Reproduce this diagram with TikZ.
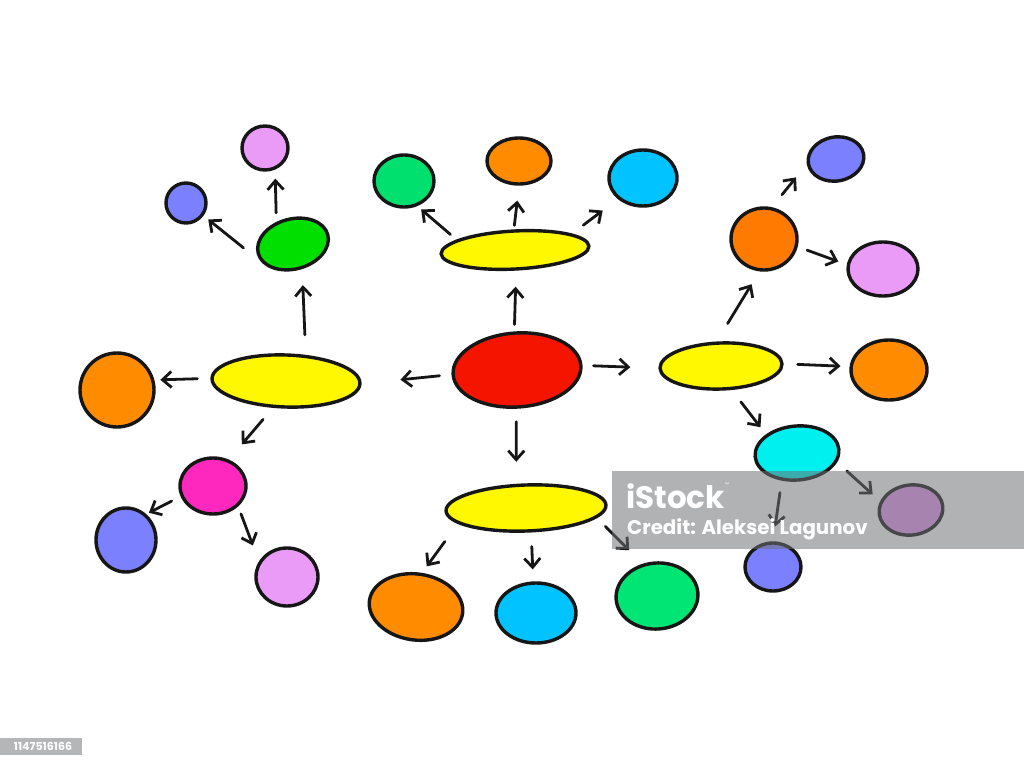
\documentclass[tikz,border=0pt]{standalone}
\usepackage{fontspec}
\newfontfamily\wmfont{Poppins}
\usetikzlibrary{shapes.geometric,arrows.meta}
\definecolor{ink}{HTML}{161616}
\definecolor{cred}{HTML}{F41400}
\definecolor{cyel}{HTML}{FFF800}
\definecolor{cgreenA}{HTML}{00E06E}
\definecolor{cgreenB}{HTML}{00DF00}
\definecolor{cgreenC}{HTML}{00E573}
\definecolor{corange}{HTML}{FF8C00}
\definecolor{corangeB}{HTML}{FF7A00}
\definecolor{cblue}{HTML}{00C3FF}
\definecolor{ccyan}{HTML}{00F0F0}
\definecolor{cpink}{HTML}{EA9BF7}
\definecolor{cviolet}{HTML}{7B80FF}
\definecolor{cmag}{HTML}{FF28BE}
\definecolor{wmgrey}{HTML}{707275}
\definecolor{idgrey}{HTML}{B4B6B8}
\tikzset{
  bub/.style={ellipse, draw=ink, line width=3.4pt, inner sep=0pt},
  arr/.style={-{Straight Barb[length=9pt,width=16pt]}, line width=2.8pt, draw=ink, line cap=round},
  wmtext/.style={text=white, inner sep=0pt, font=\wmfont\bfseries}
}
\begin{document}
\begin{tikzpicture}[x=1pt,y=-1pt]
\useasboundingbox[fill=white] (0,0) rectangle (1024,767);
% nodes
\node[bub,fill=cred,minimum width=128pt,minimum height=74pt,rotate=4] (red) at (517,370) {};
\node[bub,fill=cyel,minimum width=148pt,minimum height=38pt,rotate=3] (ty) at (515,250) {};
\node[bub,fill=cgreenA,minimum width=60pt,minimum height=52pt] (tg) at (404,181) {};
\node[bub,fill=corange,minimum width=64pt,minimum height=46pt] (to) at (519,161) {};
\node[bub,fill=cblue,minimum width=68pt,minimum height=56pt] (tb) at (643,178) {};
\node[bub,fill=cyel,minimum width=148pt,minimum height=52pt,rotate=-2] (ly) at (286,381) {};
\node[bub,fill=corange,minimum width=74pt,minimum height=74pt] (lo) at (117,390) {};
\node[bub,fill=cgreenB,minimum width=72pt,minimum height=50pt,rotate=15] (lg) at (293,244) {};
\node[bub,fill=cpink,minimum width=46pt,minimum height=44pt] (lp) at (265,148) {};
\node[bub,fill=cviolet,minimum width=40pt,minimum height=40pt] (lb) at (186,203) {};
\node[bub,fill=cmag,minimum width=66pt,minimum height=56pt] (mg) at (213,486) {};
\node[bub,fill=cviolet,minimum width=60pt,minimum height=64pt] (blb) at (126,540) {};
\node[bub,fill=cpink,minimum width=62pt,minimum height=58pt] (pb) at (287,577) {};
\node[bub,fill=cyel,minimum width=160pt,minimum height=46pt,rotate=2] (by) at (526,508) {};
\node[bub,fill=corange,minimum width=94pt,minimum height=66pt,rotate=-8] (bo) at (416,607) {};
\node[bub,fill=cblue,minimum width=80pt,minimum height=60pt] (bb) at (536,613) {};
\node[bub,fill=cgreenC,minimum width=82pt,minimum height=66pt,rotate=5] (bg) at (657,596) {};
\node[bub,fill=cyel,minimum width=122pt,minimum height=46pt,rotate=2] (ry) at (721,366) {};
\node[bub,fill=corangeB,minimum width=66pt,minimum height=62pt] (ro) at (764,239) {};
\node[bub,fill=cviolet,minimum width=56pt,minimum height=44pt,rotate=10] (rb) at (836,159) {};
\node[bub,fill=cpink,minimum width=70pt,minimum height=54pt] (rp) at (883,269) {};
\node[bub,fill=corange,minimum width=76pt,minimum height=60pt] (ro2) at (889,370) {};
\node[bub,fill=ccyan,minimum width=84pt,minimum height=54pt,rotate=5] (cy) at (797,453) {};
\node[bub,fill=cpink,minimum width=64pt,minimum height=50pt,rotate=8] (pu) at (911,510) {};
\node[bub,fill=cviolet,minimum width=56pt,minimum height=48pt] (bbr) at (773,567) {};
% connectors
\draw[arr,shorten <=7pt,shorten >=16pt] (red.north) -- (ty.south);
\draw[arr,shorten <=12pt,shorten >=39pt] (red.west) -- (ly.east);
\draw[arr,shorten <=11pt,shorten >=28pt] (red.east) -- (ry.west);
\draw[arr,shorten <=13pt,shorten >=22pt] (red.-95) -- (by.110);
\draw[arr,shorten <=8pt,shorten >=5pt] (ty.167) -- (tg.-62);
\draw[arr,shorten <=4pt,shorten >=15pt] (ty.north) -- (to.south);
\draw[arr,shorten <=14pt,shorten >=19pt] (ty.13) -- (tb.220);
\draw[arr,shorten <=13pt,shorten >=6pt] (ly.west) -- (lo.15);
\draw[arr,shorten <=20pt,shorten >=16pt] (ly.55) -- (lg.-85);
\draw[arr,shorten <=9pt,shorten >=9pt] (lg.112) -- (lp.-65);
\draw[arr,shorten <=23pt,shorten >=6pt] (lg.195) -- (lb.-36);
\draw[arr,shorten <=15pt,shorten >=20pt] (ly.246) -- (mg.59);
\draw[arr,shorten <=10pt,shorten >=3pt] (mg.198) -- (blb.52);
\draw[arr,shorten <=8pt,shorten >=17pt] (mg.-39) -- (pb.151);
\draw[arr,shorten <=22pt,shorten >=8pt] (by.191) -- (bo.88);
\draw[arr,shorten <=14pt,shorten >=12pt] (by.-80) -- (bb.95);
\draw[arr,shorten <=12pt,shorten >=19pt] (by.-10) -- (bg.109);
\draw[arr,shorten <=14pt,shorten >=9pt] (ry.east) -- (ro2.175);
\draw[arr,shorten <=21pt,shorten >=15pt] (ry.98) -- (ro.262);
\draw[arr,shorten <=16pt,shorten >=17pt] (ro.76) -- (rb.180);
\draw[arr,shorten <=10pt,shorten >=9pt] (ro.-13) -- (rp.173);
\draw[arr,shorten <=15pt,shorten >=9pt] (ry.-68) -- (cy.144);
\draw[arr,shorten <=13pt,shorten >=10pt] (cy.-18) -- (pu.156);
\draw[arr,shorten <=12pt,shorten >=15pt] (cy.236) -- (bbr.90);
% watermark
\fill[wmgrey,opacity=0.54] (612,471) rectangle (1024,549);
\node[wmtext,anchor=base west,font=\wmfont\bfseries\fontsize{31}{31}\selectfont] (wmA) at (626,508) {iStock};
\node[wmtext,anchor=north west,font=\wmfont\fontsize{5}{5}\selectfont] (wmB) at (wmA.north east) {™};
\node[wmtext,anchor=base west,font=\wmfont\bfseries\fontsize{19.8}{20}\selectfont] (wmC) at (627,534) {Credit: Aleksei Lagunov};
\fill[idgrey] (0,738) rectangle (82,755);
\node[wmtext,font=\wmfont\bfseries\fontsize{11}{11}\selectfont] (idt) at (43,746.5) {1147516166};
\end{tikzpicture}
\end{document}
